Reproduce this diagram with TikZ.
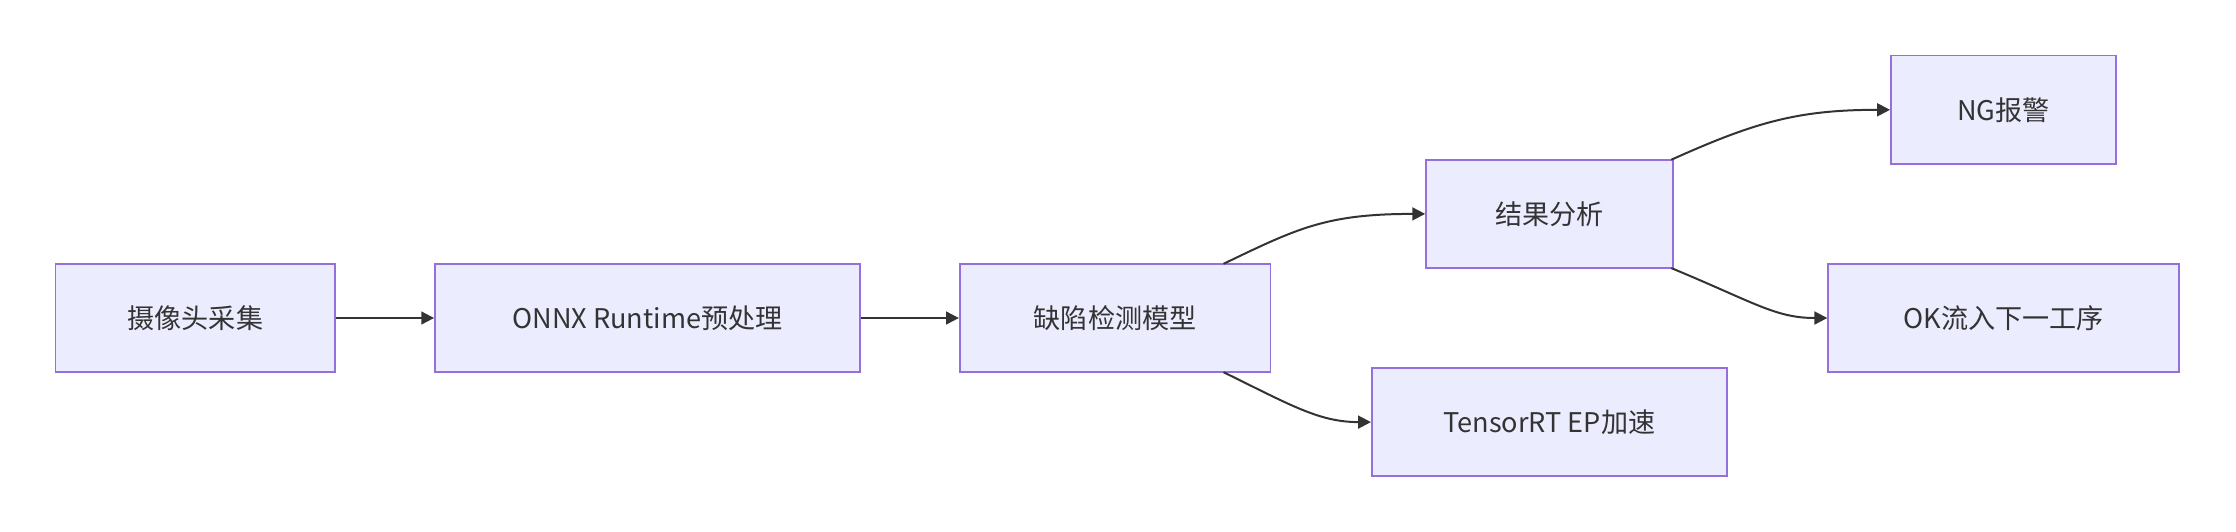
\documentclass[tikz,border=0pt]{standalone}
\usepackage{fontspec}
\setmainfont{Noto Sans CJK SC}
\usetikzlibrary{arrows.meta}
\definecolor{nfill}{HTML}{ECECFF}
\definecolor{nline}{HTML}{9370DB}
\definecolor{ink}{HTML}{333333}
\begin{document}
\begin{tikzpicture}[x=1pt,y=-1pt,
  box/.style={draw=nline,fill=nfill,line width=1.2pt,inner sep=0,text=ink,font=\fontsize{19}{22}\selectfont},
  arr/.style={draw=ink,line width=1.4pt,-{Triangle[length=9pt,width=9pt]}}]
\useasboundingbox (0,0) rectangle (1568,373);
\newcommand\bx[5]{\node[box,minimum width={#4-#2},minimum height={#5-#3}] (#1) at ({(#2+#4)/2},{(#3+#5)/2}) {\strut};}
\node[box,minimum width=196,minimum height=76] (a) at (137,223) {摄像头采集};
\node[box,minimum width=298,minimum height=76] (b) at (454,223) {ONNX Runtime预处理};
\node[box,minimum width=218,minimum height=76] (c) at (782,223) {缺陷检测模型};
\node[box,minimum width=173,minimum height=76] (d) at (1086.5,150) {结果分析};
\node[box,minimum width=158,minimum height=76] (e) at (1405,77) {NG报警};
\node[box,minimum width=246,minimum height=76] (f) at (1405,223) {OK流入下一工序};
\node[box,minimum width=249,minimum height=76] (g) at (1086.5,296) {TensorRT EP加速};
\draw[arr] (a) -- (b);
\draw[arr] (b) -- (c);
\coordinate (c1) at (858,185);
\coordinate (c2) at (858,261);
\coordinate (d1) at (1172,112);
\coordinate (d2) at (1172,188);
\draw[arr] (c1) .. controls (910,160) and (930,150) .. (d.west);
\draw[arr] (c2) .. controls (905,284) and (925,296) .. (g.west);
\draw[arr] (d1) .. controls (1230,86) and (1260,77) .. (e.west);
\draw[arr] (d2) .. controls (1230,212) and (1245,223) .. (f.west);
\end{tikzpicture}
\end{document}
